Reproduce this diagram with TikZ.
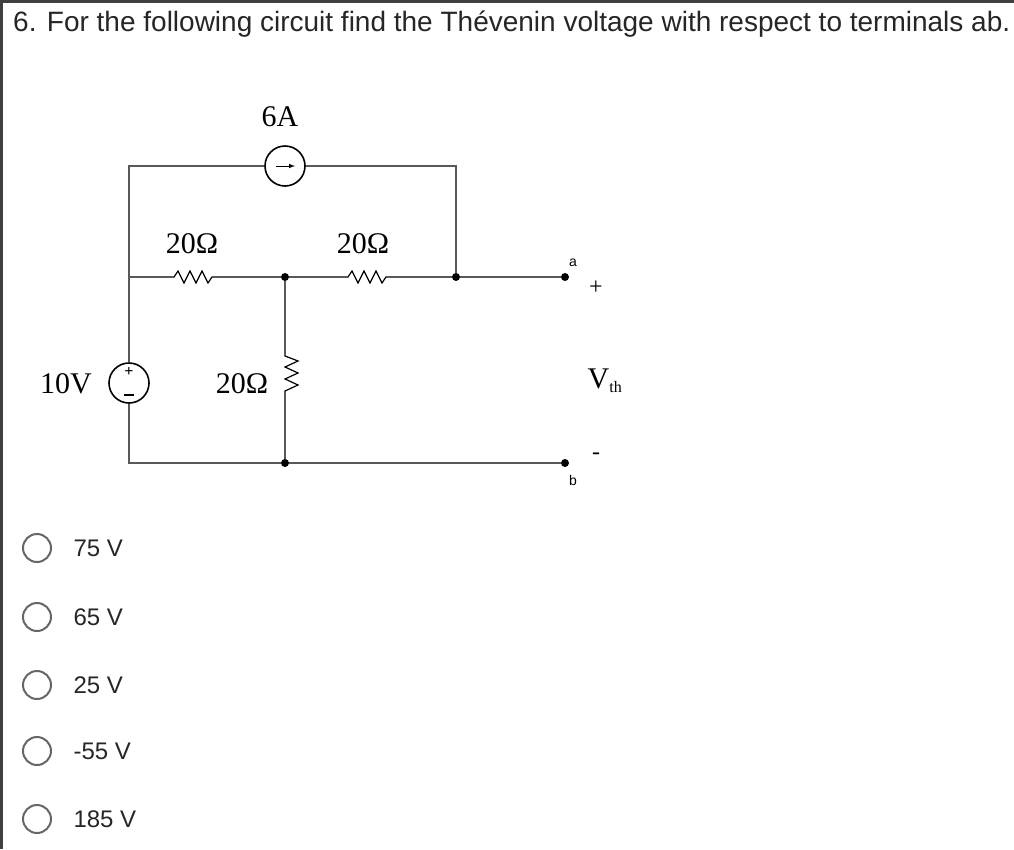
\documentclass[tikz,border=0pt]{standalone}
\usepackage{fontspec}
\usetikzlibrary{calc}
\setmainfont{Liberation Serif}
\newfontfamily\uifont{Liberation Sans}
\begin{document}
\begin{tikzpicture}[x=1pt,y=-1pt,
  wire/.style={line width=1.1pt,gray!70!black},
  dotj/.style={circle,fill=black,inner sep=0pt,minimum size=8pt},
  radio/.style={circle,draw=gray!80!black,line width=2pt,minimum size=28pt,inner sep=0pt},
  opt/.style={anchor=west,font=\uifont\fontsize{24}{24}\selectfont,text=black!85},
  lab/.style={font=\fontsize{30}{30}\selectfont}]
\useasboundingbox (0,0) rectangle (1014,849);
\fill[white] (0,0) rectangle (1014,849);
\fill[black!75] (0,0) rectangle (3,849);
\fill[black!75] (0,0) rectangle (1014,3);
\node[anchor=west,font=\uifont\fontsize{28}{28}\selectfont,text=black!85,inner sep=0pt] (title) at (13,24) {6. For the following circuit find the Thévenin voltage with respect to terminals ab.};
% nodes
\coordinate (tl) at (129,166); \coordinate (tr) at (456,166);
\coordinate (ml) at (129,277); \node[dotj] (m) at (285,277) {}; \node[dotj] (mr) at (456,277) {};
\node[dotj] (a) at (565,277) {};
\coordinate (bl) at (129,463); \node[dotj] (bm) at (285,463) {}; \node[dotj] (b) at (565,463) {};
\node[circle,draw,line width=1.6pt,minimum size=40pt,inner sep=0pt] (cs) at (285,166) {};
\draw[-latex,line width=1pt] ($(cs.center)+(-9,0)$) -- ($(cs.center)+(10,0)$);
\node[circle,draw,line width=1.6pt,minimum size=40pt,inner sep=0pt] (vs) at (129,383) {};
\node[font=\fontsize{16}{16}\selectfont\bfseries] at (129,372) {+};
\draw[line width=1.4pt] (124,395) -- (134,395);
% wires
\draw[wire] (vs.north) -- (ml) -- (tl) -- (cs.west);
\draw[wire] (cs.east) -- (tr) -- (mr);
\draw[wire] (vs.south) -- (bl) -- (bm) -- (b);
\draw[wire] (ml) -- (166,277);
\draw[line width=1.2pt] (166,277) -- (174,277) -- (178,271) -- (184,283) -- (190,271) -- (196,283) -- (202,271) -- (208,283) -- (212,277) -- (224,277);
\draw[wire] (224,277) -- (m) -- (340,277);
\draw[line width=1.2pt] (340,277) -- (348,277) -- (352,271) -- (358,283) -- (364,271) -- (370,283) -- (376,271) -- (382,283) -- (386,277) -- (398,277);
\draw[wire] (398,277) -- (mr) -- (a);
\draw[wire] (m) -- (285,352);
\draw[line width=1.2pt] (285,352) -- (285,356) -- (298,361) -- (285,367) -- (298,373) -- (285,379) -- (298,385) -- (285,391) -- (285,402);
\draw[wire] (285,402) -- (bm);
% labels
\node[lab] at (280,117) {6A};
\node[lab] at (192,244) {20Ω};
\node[lab] at (363,244) {20Ω};
\node[lab] at (242,384) {20Ω};
\node[lab] at (66,384) {10V};
\node[font=\uifont\fontsize{14}{14}\selectfont] at (573,263) {a};
\node[font=\uifont\fontsize{14}{14}\selectfont] at (573,480) {b};
\node[font=\fontsize{24}{24}\selectfont] at (596,288) {+};
\node[font=\fontsize{24}{24}\selectfont] at (596,456) {-};
\node[font=\fontsize{30}{30}\selectfont] at (605,381) {V\textsubscript{\fontsize{16}{16}\selectfont th}};
% options
\foreach \y/\t [count=\i] in {548/75 V,617/65 V,685/25 V,751/-55 V,819/185 V}{
  \node[radio] (r\i) at (37,\y) {};
  \node[opt] (o\i) at (70,\y) {\t};
}
\end{tikzpicture}
\end{document}
